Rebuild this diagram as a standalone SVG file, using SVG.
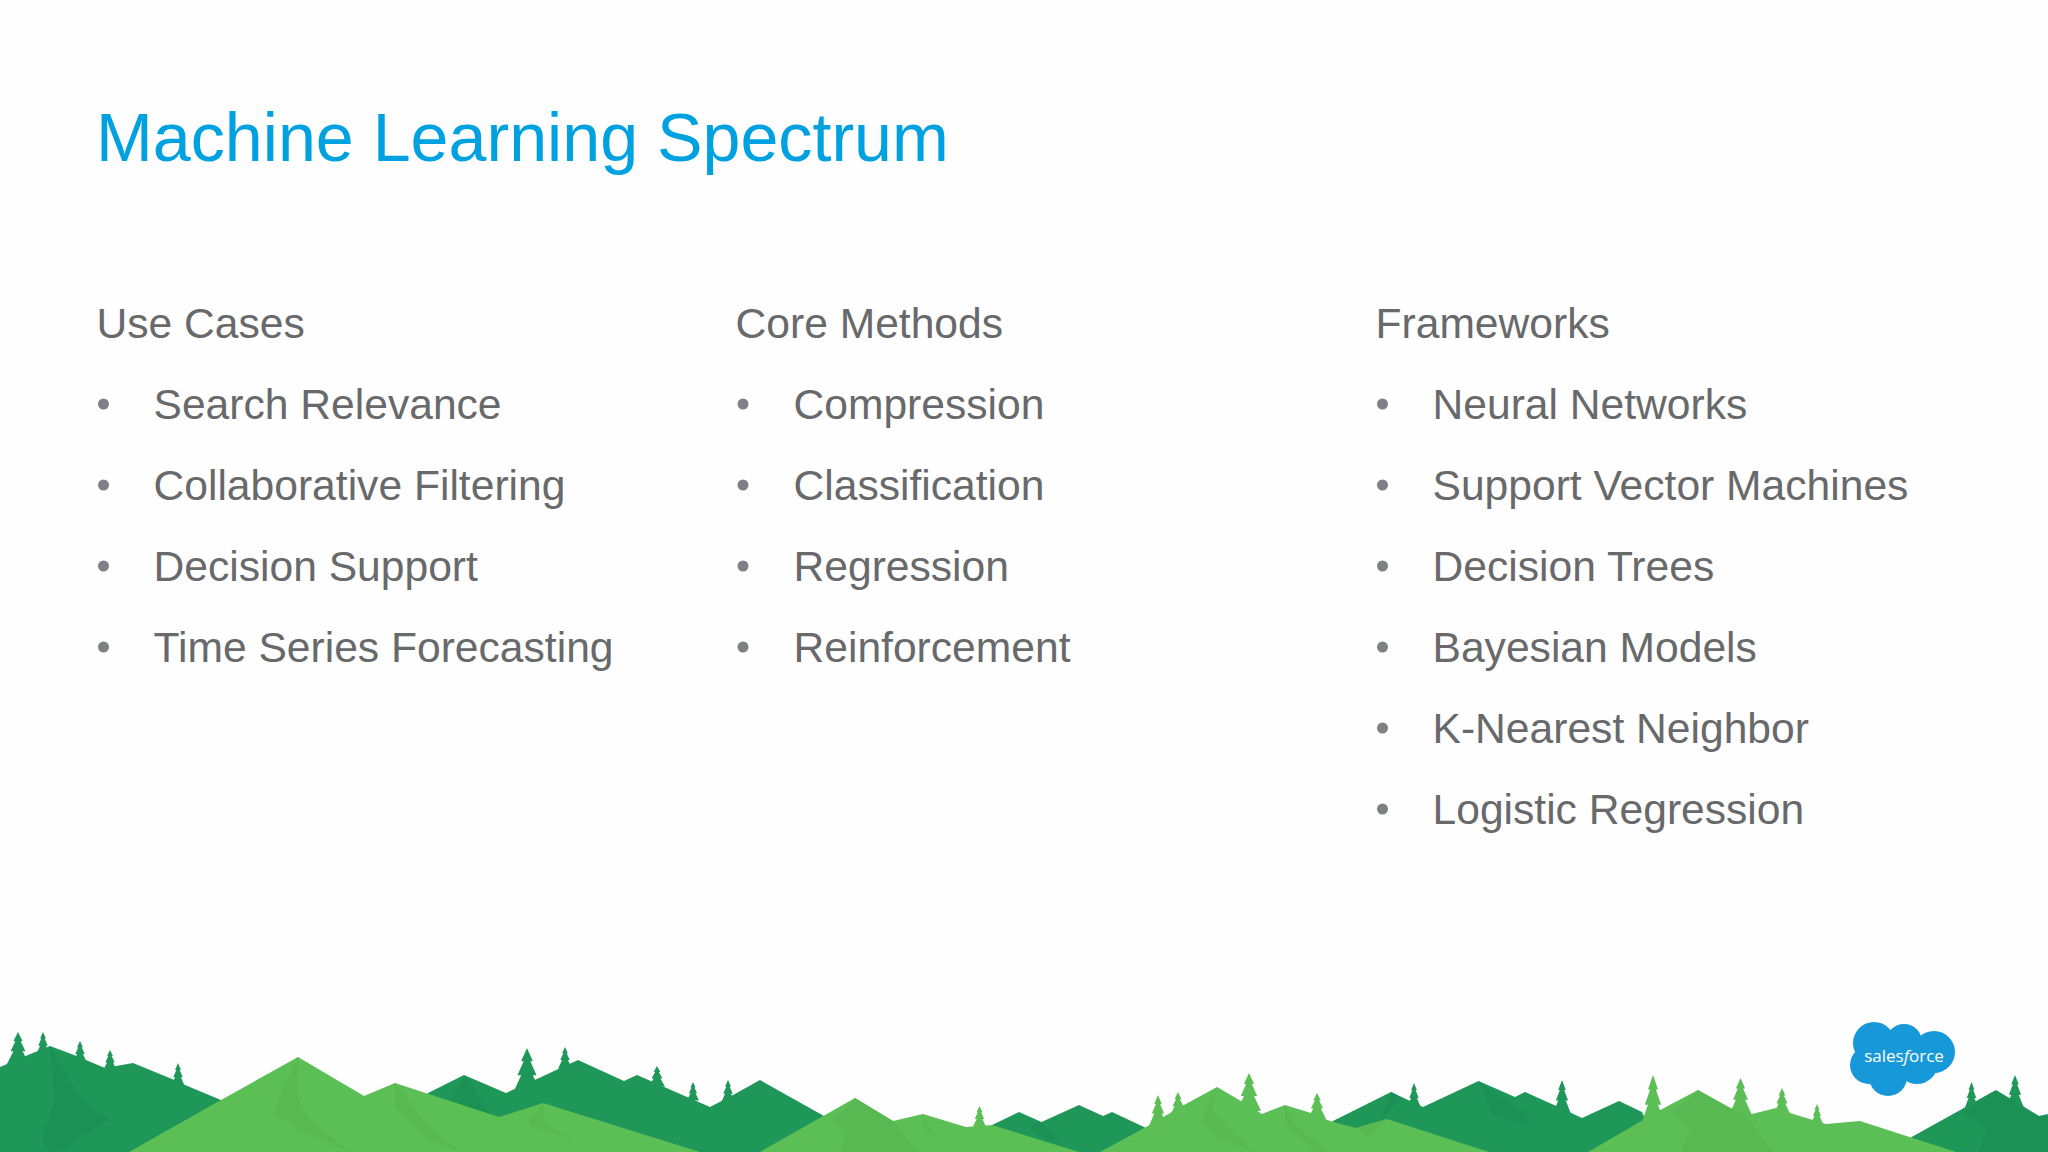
<svg xmlns="http://www.w3.org/2000/svg" width="2048" height="1152" viewBox="0 0 2048 1152">
<style>
.t{font-family:"Liberation Sans",Arial,sans-serif;fill:#68696b;font-size:42.6px}
.title{font-family:"Liberation Sans",Arial,sans-serif;fill:#00a1e0;font-size:68.2px}
.b{fill:#7f8083}
.d{fill:#1f9758}
.df{fill:#1c9155}
.l{fill:#5cbf55}
.lf{fill:#58b852}
</style>
<defs>
<path id="tree" d="M0 0L.42 .3L.24 .3L.68 .62L.42 .62L1 1.03L-1 1.03L-.42 .62L-.68 .62L-.24 .3L-.42 .3Z"/>
</defs>
<rect width="2048" height="1152" fill="#fefefe"/>
<text class="title" x="96" y="161">Machine Learning Spectrum</text>

<g id="use-cases">
<text class="t" x="96.500" y="338">Use Cases</text>
<circle class="b" cx="103.500" cy="404" r="5.500"/><text class="t" x="153.500" y="419">Search Relevance</text>
<circle class="b" cx="103.500" cy="485" r="5.500"/><text class="t" x="153.500" y="500">Collaborative Filtering</text>
<circle class="b" cx="103.500" cy="566" r="5.500"/><text class="t" x="153.500" y="581">Decision Support</text>
<circle class="b" cx="103.500" cy="647" r="5.500"/><text class="t" x="153.500" y="662">Time Series Forecasting</text>
</g>
<g id="core-methods">
<text class="t" x="735.500" y="338">Core Methods</text>
<circle class="b" cx="743" cy="404" r="5.500"/><text class="t" x="793.500" y="419">Compression</text>
<circle class="b" cx="743" cy="485" r="5.500"/><text class="t" x="793.500" y="500">Classification</text>
<circle class="b" cx="743" cy="566" r="5.500"/><text class="t" x="793.500" y="581">Regression</text>
<circle class="b" cx="743" cy="647" r="5.500"/><text class="t" x="793.500" y="662">Reinforcement</text>
</g>
<g id="frameworks">
<text class="t" x="1375.500" y="338">Frameworks</text>
<circle class="b" cx="1382.500" cy="404" r="5.500"/><text class="t" x="1432.500" y="419">Neural Networks</text>
<circle class="b" cx="1382.500" cy="485" r="5.500"/><text class="t" x="1432.500" y="500">Support Vector Machines</text>
<circle class="b" cx="1382.500" cy="566" r="5.500"/><text class="t" x="1432.500" y="581">Decision Trees</text>
<circle class="b" cx="1382.500" cy="647" r="5.500"/><text class="t" x="1432.500" y="662">Bayesian Models</text>
<circle class="b" cx="1382.500" cy="728" r="5.500"/><text class="t" x="1432.500" y="743">K-Nearest Neighbor</text>
<circle class="b" cx="1382.500" cy="809" r="5.500"/><text class="t" x="1432.500" y="824">Logistic Regression</text>
</g>

<g id="dark-trees" class="d">
<use href="#tree" transform="translate(18,1032) scale(11,31)"/>
<use href="#tree" transform="translate(43,1032) scale(7,22)"/>
<use href="#tree" transform="translate(80,1041) scale(7,21)"/>
<use href="#tree" transform="translate(110,1050) scale(7,20)"/>
<use href="#tree" transform="translate(178,1063) scale(7,23)"/>
<use href="#tree" transform="translate(527,1048) scale(14,44)"/>
<use href="#tree" transform="translate(565,1047) scale(7,21)"/>
<use href="#tree" transform="translate(657,1066) scale(8,20)"/>
<use href="#tree" transform="translate(693,1082) scale(6,18)"/>
<use href="#tree" transform="translate(728,1080) scale(7,22)"/>
<use href="#tree" transform="translate(1414,1083) scale(7,24)"/>
<use href="#tree" transform="translate(1562,1080) scale(9,33)"/>
<use href="#tree" transform="translate(1971.500,1082) scale(7,26)"/>
<use href="#tree" transform="translate(2015,1075) scale(9,32)"/>
</g>
<g id="dark-mountains">
<path class="d" d="M0 1067L28 1055L50 1046L74 1055L105 1068L133 1063L172 1079L185 1085L221 1100L300 1152L0 1152Z"/>
<path class="df" d="M50 1046L55 1100L42 1140L48 1152L60 1152L109 1120L80 1097L58 1060Z"/>
<path class="d" d="M400 1152L428 1093L464 1075L506 1093L539 1078L578 1060L624 1081L637 1075L687 1097L710 1107L733 1095L760 1080L824 1116L880 1152Z"/>
<path class="df" d="M464 1075L451 1100L478 1110L491 1115L473 1087Z"/>
<path class="d" d="M980 1152L992 1125L1019 1112L1041.500 1122L1079 1105L1103 1116L1112 1112L1144 1127L1180 1152Z"/>
<path class="df" d="M1028 1127L1041 1122L1062 1145L1044 1138Z"/>
<path class="d" d="M1300 1152L1333 1121L1391 1092L1423 1107L1478.500 1081L1515 1097L1525 1092L1554 1105L1582 1118L1619 1101L1642 1112L1660 1152Z"/>
<path class="df" d="M1391 1092L1380 1120L1402 1098Z"/>
<path class="df" d="M1478 1081L1493 1115L1526 1125L1528 1115Z"/>
<path class="df" d="M1912 1137L1966 1107L1996 1090L2026 1108L2039 1116L2048 1114L2048 1152L1900 1152Z"/>
<path class="d" d="M1912 1137L1966 1107L1996 1090L1962 1113L1987 1127L1979 1152L1900 1152Z"/>
</g>
<g id="light-trees" class="l">
<use href="#tree" transform="translate(979.500,1106) scale(7,21)"/>
<use href="#tree" transform="translate(1158,1095) scale(9,30)"/>
<use href="#tree" transform="translate(1178,1092) scale(8,23)"/>
<use href="#tree" transform="translate(1249,1073) scale(12,37)"/>
<use href="#tree" transform="translate(1317,1093) scale(9,25)"/>
<use href="#tree" transform="translate(1653,1075) scale(12,48)"/>
<use href="#tree" transform="translate(1740.500,1078) scale(11,35)"/>
<use href="#tree" transform="translate(1782,1088) scale(8,25)"/>
<use href="#tree" transform="translate(1817,1104) scale(6,19)"/>
</g>
<g id="light-mountains">
<path class="l" d="M129 1152L221 1100L298 1057L364 1096L395 1083L499 1117L543 1103L700 1152Z"/>
<path class="lf" d="M298 1057L273 1112L299 1130L350 1152L308 1118L297 1097Z"/>
<path class="lf" d="M395 1083L395 1107L429 1140L462 1152L435 1133L412 1105Z"/>
<path class="lf" d="M543 1104L527 1124L574 1140L545 1125Z"/>
<path class="l" d="M760 1152L855 1098L893 1121L923 1114L966 1127L992 1125L1079 1152Z"/>
<path class="lf" d="M855 1098L834 1120L847 1133L841 1152L919 1152L893 1121Z"/>
<path class="lf" d="M923 1115L925 1130L952 1147L932 1133Z"/>
<path class="l" d="M1100 1152L1146 1127L1184 1105L1217 1087L1241 1101L1262 1114L1285 1105L1311 1113L1330 1121L1356 1128L1387 1119L1489 1152Z"/>
<path class="lf" d="M1217 1087L1200 1122L1218 1137L1254 1152L1227 1127L1212 1110Z"/>
<path class="lf" d="M1285 1106L1285 1123L1316 1152L1329 1152L1294 1125Z"/>
<path class="lf" d="M1356 1128L1387 1119L1370 1136L1387 1150Z"/>
<path class="l" d="M1588 1152L1638 1123L1664 1108L1698 1090L1731 1110L1752 1114L1776 1108L1790 1113L1826 1124L1860 1121L1956 1152Z"/>
<path class="lf" d="M1698 1090L1671 1112L1691 1128L1681 1152L1774 1152L1747 1117Z"/>
</g>
<g id="salesforce-logo" fill="#1798d8">
<circle cx="1874" cy="1043" r="21"/>
<circle cx="1904" cy="1042" r="18"/>
<circle cx="1934" cy="1052" r="21"/>
<circle cx="1869" cy="1065" r="19"/>
<circle cx="1888" cy="1077" r="19"/>
<circle cx="1917" cy="1063" r="21"/>
<rect x="1868" y="1040" width="60" height="36"/>
<text x="1904" y="1062" text-anchor="middle" font-family="'Open Sans','Noto Sans',sans-serif" font-size="17" fill="#fff">sales<tspan font-style="italic">f</tspan>orce</text>
</g>
</svg>
